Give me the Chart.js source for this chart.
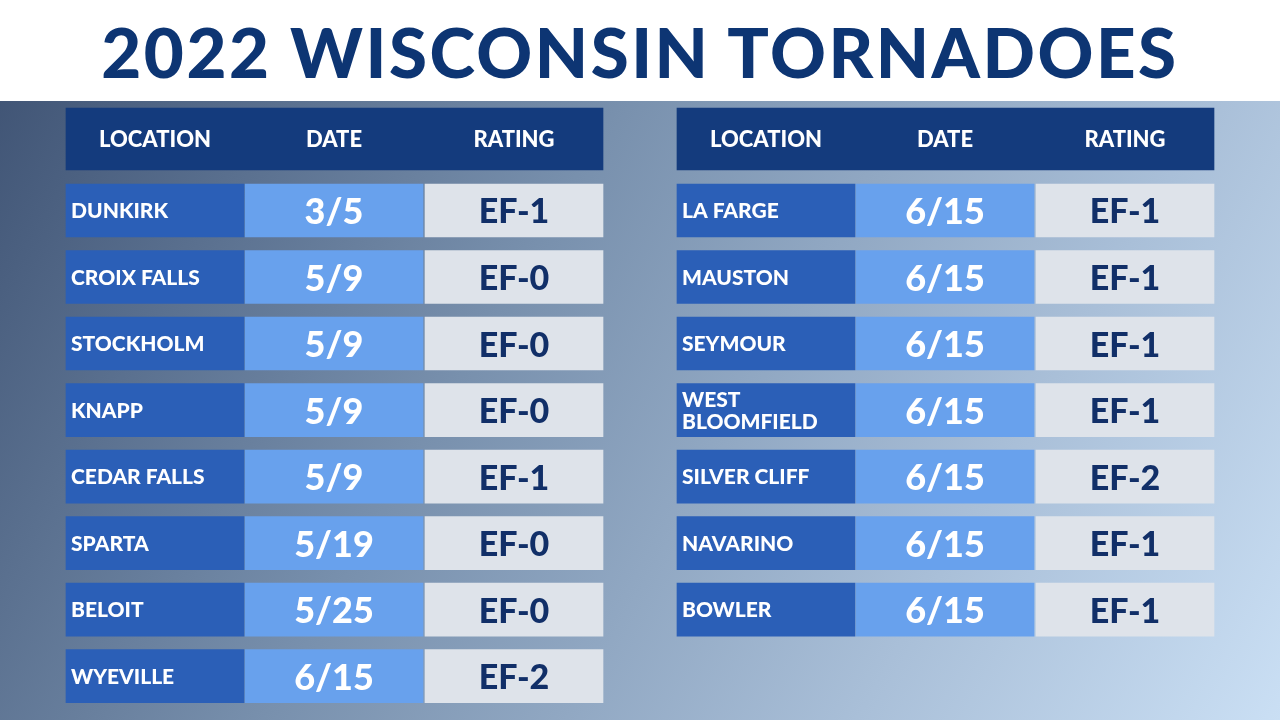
<!DOCTYPE html>
<html>
<head>
<meta charset="utf-8">
<script src="https://cdn.jsdelivr.net/npm/chart.js@4.4.0/dist/chart.umd.min.js"></script>
<style>
  html, body { margin: 0; padding: 0; }
  body {
    width: 1280px; height: 720px; position: relative; overflow: hidden;
    background: linear-gradient(120deg, #3c5071 0%, #7890ad 40%, #a9bfd8 75%, #cadff4 100%);
  }
  #title {
    position: absolute; left: 0; top: 0; width: 1280px; height: 101px; background: #fff;
    text-align: center; font-family: Lato, "Open Sans", sans-serif; font-weight: 900;
    font-size: 69px; line-height: 104px; color: #0d3573; letter-spacing: 2.5px;
  }
  #chart { position: absolute; left: 0; top: 0; }
</style>
</head>
<body>
<canvas id="chart" width="1280" height="720"></canvas>
<div id="title">2022 WISCONSIN TORNADOES</div>
<script>
// data
const headers = ["LOCATION", "DATE", "RATING"];
const leftLocations = ["DUNKIRK", "CROIX FALLS", "STOCKHOLM", "KNAPP", "CEDAR FALLS", "SPARTA", "BELOIT", "WYEVILLE"];
const leftDates = ["3/5", "5/9", "5/9", "5/9", "5/9", "5/19", "5/25", "6/15"];
const leftRatings = ["EF-1", "EF-0", "EF-0", "EF-0", "EF-1", "EF-0", "EF-0", "EF-2"];
const rightLocations = ["LA FARGE", "MAUSTON", "SEYMOUR", ["WEST", "BLOOMFIELD"], "SILVER CLIFF", "NAVARINO", "BOWLER"];
const rightDates = ["6/15", "6/15", "6/15", "6/15", "6/15", "6/15", "6/15"];
const rightRatings = ["EF-1", "EF-1", "EF-1", "EF-1", "EF-2", "EF-1", "EF-1"];

// layout (pixel units on x, row units on y)
const tableLeft = [66, 677];
const colEdges = [[0, 178], [179, 357], [359, 537]];
const headerRow = -1.075;

const tables = [
  { locs: leftLocations, dates: leftDates, ratings: leftRatings },
  { locs: rightLocations, dates: rightDates, ratings: rightRatings }
];
const colColors = ["#2b5fb7", "#68a1ed", "#dee3ea"];
const textColors = ["#ffffff", "#ffffff", "#112f68"];
const fonts = ["900 21px Lato", "900 36px Lato", "900 34px Lato"];

const datasets = [];
tables.forEach((t, ti) => {
  const x0 = tableLeft[ti];
  datasets.push({
    label: "header" + ti,
    data: [{ y: headerRow, x: [x0, x0 + colEdges[2][1]] }],
    backgroundColor: "#143b7d",
    barThickness: 62,
    texts: [headers], kind: "header", table: ti
  });
  const cols = [t.locs, t.dates, t.ratings];
  cols.forEach((vals, ci) => {
    datasets.push({
      label: "col" + ti + ci,
      data: vals.map((v, i) => ({ y: i, x: [x0 + colEdges[ci][0], x0 + colEdges[ci][1]] })),
      backgroundColor: colColors[ci],
      barThickness: 53,
      texts: vals, kind: "cell", col: ci
    });
  });
});

const textPlugin = {
  id: "cellText",
  afterDatasetsDraw(chart) {
    const ctx = chart.ctx;
    chart.data.datasets.forEach((ds, di) => {
      const meta = chart.getDatasetMeta(di);
      meta.data.forEach((el, i) => {
        ctx.save();
        ctx.textBaseline = "middle";
        if (ds.kind === "header") {
          ctx.fillStyle = "#ffffff";
          ctx.font = "900 22px Lato";
          ctx.textAlign = "center";
          const x0 = tableLeft[ds.table];
          headers.forEach((h, hi) => {
            const cx = x0 + (colEdges[hi][0] + colEdges[hi][1]) / 2;
            ctx.fillText(h, chart.scales.x.getPixelForValue(cx), el.y + 1);
          });
        } else {
          const v = ds.texts[i];
          ctx.fillStyle = textColors[ds.col];
          ctx.font = fonts[ds.col];
          const left = Math.min(el.x, el.base);
          const right = Math.max(el.x, el.base);
          if (ds.col === 0) {
            ctx.textAlign = "left";
            const lines = Array.isArray(v) ? v : [v];
            lines.forEach((ln, li) => {
              ctx.fillText(ln, left + 5, el.y + 1 + (li - (lines.length - 1) / 2) * 22);
            });
          } else {
            ctx.textAlign = "center";
            ctx.fillText(v, (left + right) / 2, el.y + 2);
          }
        }
        ctx.restore();
      });
    });
  }
};

new Chart(document.getElementById("chart"), {
  type: "bar",
  data: { datasets },
  options: {
    indexAxis: "y",
    responsive: false,
    animation: false,
    devicePixelRatio: 1,
    layout: { padding: 0 },
    plugins: { legend: { display: false }, tooltip: { enabled: false } },
    scales: {
      x: { type: "linear", min: 0, max: 1280, display: false, offset: false },
      y: { type: "linear", min: -3.165, max: 7.66, reverse: true, display: false, offset: false }
    },
    datasets: { bar: { grouped: false, borderWidth: 0, borderSkipped: false } }
  },
  plugins: [textPlugin]
});
</script>
</body>
</html>
